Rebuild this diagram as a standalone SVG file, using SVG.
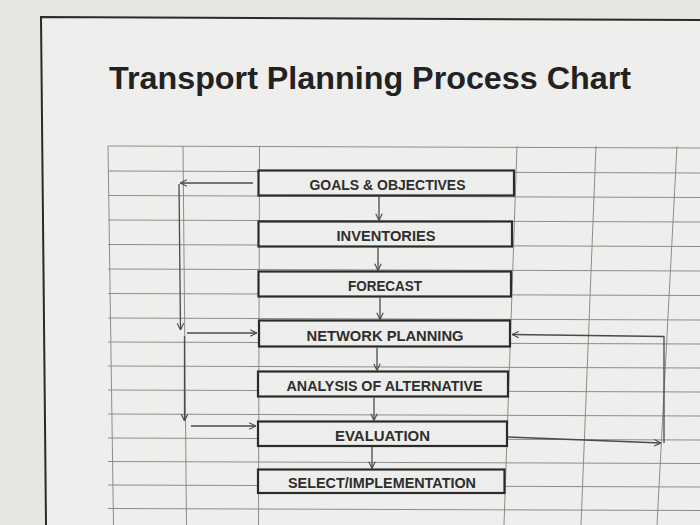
<svg xmlns="http://www.w3.org/2000/svg" width="700" height="525" viewBox="0 0 700 525">
<defs>
<marker id="ah" viewBox="0 0 10 10" refX="9.5" refY="5" markerWidth="8" markerHeight="8" markerUnits="userSpaceOnUse" orient="auto">
<path d="M1,1 L9.5,5 L1,9" fill="none" stroke="#4a4a4a" stroke-width="1.4"/>
</marker>
</defs>
<style>
.grid{stroke:#8c8c8a;stroke-width:1;fill:none}
.box{fill:#ededeb;stroke:#2b2b2b;stroke-width:2.2}
.lbl{font-family:"Liberation Sans",Arial,sans-serif;font-weight:bold;font-size:14px;fill:#2e2e2e;text-anchor:middle}
.con{stroke:#4a4a4a;stroke-width:1.3;fill:none}
.title{font-family:"Liberation Sans",Arial,sans-serif;font-weight:bold;font-size:32px;fill:#222}
</style>
<rect x="0" y="0" width="700" height="525" fill="#e6e6e3"/>
<path d="M41,17 L700,20 L700,525 L46,525 Z" fill="#eeeeec"/>
<path d="M46,525 L41,17 L700,20" fill="none" stroke="#2a2a2a" stroke-width="2"/>
<text class="title" x="109" y="89" textLength="522" lengthAdjust="spacingAndGlyphs">Transport Planning Process Chart</text>
<g id="grid">
<line class="grid" x1="108" y1="146" x2="700" y2="148"/>
<line class="grid" x1="108" y1="171" x2="700" y2="173"/>
<line class="grid" x1="108" y1="195.5" x2="700" y2="197.5"/>
<line class="grid" x1="108" y1="220" x2="700" y2="222"/>
<line class="grid" x1="108" y1="244.5" x2="700" y2="246.5"/>
<line class="grid" x1="108" y1="269" x2="700" y2="271"/>
<line class="grid" x1="108" y1="293.5" x2="700" y2="295.5"/>
<line class="grid" x1="108" y1="318" x2="700" y2="320"/>
<line class="grid" x1="108" y1="342" x2="700" y2="344"/>
<line class="grid" x1="108" y1="366" x2="700" y2="368"/>
<line class="grid" x1="108" y1="390" x2="700" y2="392"/>
<line class="grid" x1="108" y1="414" x2="700" y2="416"/>
<line class="grid" x1="108" y1="438" x2="700" y2="440"/>
<line class="grid" x1="108" y1="461.5" x2="700" y2="463.5"/>
<line class="grid" x1="108" y1="485" x2="700" y2="487"/>
<line class="grid" x1="108" y1="508.5" x2="700" y2="510.5"/>
<line class="grid" x1="108" y1="146" x2="113.5" y2="525"/>
<line class="grid" x1="183" y1="146" x2="186.5" y2="525"/>
<line class="grid" x1="259.5" y1="146" x2="258.5" y2="525"/>
<line class="grid" x1="517" y1="146" x2="504" y2="525"/>
<line class="grid" x1="596" y1="146" x2="581" y2="525"/>
<line class="grid" x1="677" y1="146" x2="657" y2="525"/>
</g>
<g id="n1"><rect class="box" x="258.5" y="170.5" width="255.5" height="25"/><text class="lbl" x="387.5" y="190" textLength="156" lengthAdjust="spacingAndGlyphs">GOALS &amp; OBJECTIVES</text></g>
<g id="n2"><rect class="box" x="258.5" y="221.5" width="253.5" height="25"/><text class="lbl" x="386" y="241" textLength="99" lengthAdjust="spacingAndGlyphs">INVENTORIES</text></g>
<g id="n3"><rect class="box" x="258.5" y="271.5" width="252.5" height="25"/><text class="lbl" x="385" y="291" textLength="74" lengthAdjust="spacingAndGlyphs">FORECAST</text></g>
<g id="n4"><rect class="box" x="259" y="320.5" width="251" height="26"/><text class="lbl" x="385" y="340.5" textLength="157" lengthAdjust="spacingAndGlyphs">NETWORK PLANNING</text></g>
<g id="n5"><rect class="box" x="258" y="371.5" width="250" height="25"/><text class="lbl" x="384.5" y="391" textLength="196" lengthAdjust="spacingAndGlyphs">ANALYSIS OF ALTERNATIVE</text></g>
<g id="n6"><rect class="box" x="258" y="421.5" width="249" height="24.5"/><text class="lbl" x="382.5" y="440.5" textLength="95" lengthAdjust="spacingAndGlyphs">EVALUATION</text></g>
<g id="n7"><rect class="box" x="258" y="469.5" width="246.5" height="23.5"/><text class="lbl" x="382" y="488" textLength="188" lengthAdjust="spacingAndGlyphs">SELECT/IMPLEMENTATION</text></g>
<g id="connectors">
<line class="con" x1="379" y1="196.5" x2="379" y2="220.5" marker-end="url(#ah)"/>
<line class="con" x1="378" y1="247.5" x2="378" y2="270.5" marker-end="url(#ah)"/>
<line class="con" x1="380" y1="297.5" x2="380" y2="319.5" marker-end="url(#ah)"/>
<line class="con" x1="377" y1="347.5" x2="377" y2="370.5" marker-end="url(#ah)"/>
<line class="con" x1="374" y1="397.5" x2="374" y2="420.5" marker-end="url(#ah)"/>
<line class="con" x1="372" y1="447" x2="372" y2="468.5" marker-end="url(#ah)"/>
<line class="con" x1="253" y1="183" x2="180" y2="183" marker-end="url(#ah)"/>
<line class="con" x1="179" y1="184" x2="180.5" y2="330" marker-end="url(#ah)"/>
<line class="con" x1="187" y1="333" x2="257" y2="333" marker-end="url(#ah)"/>
<line class="con" x1="184.5" y1="336" x2="184.5" y2="421" marker-end="url(#ah)"/>
<line class="con" x1="191" y1="426" x2="256" y2="426" marker-end="url(#ah)"/>
<line class="con" x1="508" y1="437" x2="661" y2="443" marker-end="url(#ah)"/>
<polyline class="con" points="664,443 664,336.5 512,334.5" marker-end="url(#ah)"/>
</g>
</svg>
